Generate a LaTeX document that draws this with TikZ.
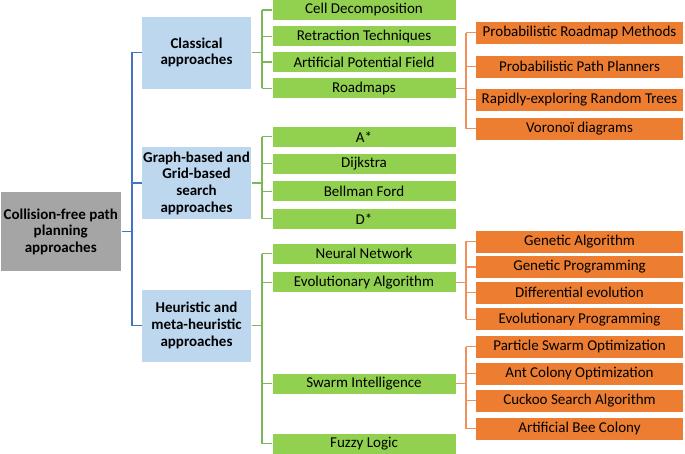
\documentclass[tikz,border=0pt]{standalone}
\usepackage{fontspec}
\setmainfont{Carlito}
\definecolor{grayfill}{HTML}{A5A5A5}
\definecolor{bluefill}{HTML}{BDD7EE}
\definecolor{greenfill}{HTML}{92D050}
\definecolor{orangefill}{HTML}{ED7D31}
\definecolor{blueline}{HTML}{4472C4}
\definecolor{greenline}{HTML}{7DB858}
\definecolor{orangeline}{HTML}{F0905A}
\begin{document}
\begin{tikzpicture}[x=1pt,y=-1pt,
  base/.style={inner sep=0pt, outer sep=0pt, align=center, text=black,
    font=\fontsize{15}{16.7}\selectfont, draw=white, line width=0.6pt},
  rootbox/.style={base, fill=grayfill, minimum width=121.5, minimum height=80, font=\fontsize{15}{16.7}\selectfont\bfseries},
  catbox/.style={base, fill=bluefill, minimum width=110, minimum height=73, font=\fontsize{15}{16.7}\selectfont\bfseries},
  leafbox/.style={base, fill=greenfill, minimum width=184, minimum height=21},
  subbox/.style={base, fill=orangefill, minimum width=208, minimum height=23},
  bl/.style={draw=blueline, line width=1.1pt},
  gl/.style={draw=greenline, line width=1.1pt},
  ol/.style={draw=orangeline, line width=1.1pt}]
\useasboundingbox (0,0) rectangle (685,454);

% root
\node[rootbox] (root) at (60.75,231.7) {Collision-free path\\planning\\approaches};

% categories
\node[catbox] (cls) at (196.5,52.5) {Classical\\approaches};
\node[catbox] (grf) at (196.5,183) {Graph-based and\\Grid-based\\search\\approaches};
\node[catbox] (heu) at (196.5,325.5) {Heuristic and\\meta-heuristic\\approaches};

% green leaves
\node[leafbox] (cell) at (364,10) {Cell Decomposition};
\node[leafbox] (retr) at (364,36.3) {Retraction Techniques};
\node[leafbox] (apf) at (364,62) {Artificial Potential Field};
\node[leafbox] (road) at (364,88.3) {Roadmaps};
\node[leafbox] (astar) at (364,136.7) {A*};
\node[leafbox] (dijk) at (364,163.7) {Dijkstra};
\node[leafbox] (bell) at (364,191.3) {Bellman Ford};
\node[leafbox] (dstar) at (364,218.7) {D*};
\node[leafbox] (nn) at (364,253.7) {Neural Network};
\node[leafbox] (evo) at (364,282.2) {Evolutionary Algorithm};
\node[leafbox] (swarm) at (364,383.8) {Swarm Intelligence};
\node[leafbox] (fuzzy) at (364,443.7) {Fuzzy Logic};

% orange sub-leaves
\node[subbox] (prm) at (579.5,32.9) {Probabilistic Roadmap Methods};
\node[subbox] (ppp) at (579.5,66.7) {Probabilistic Path Planners};
\node[subbox] (rrt) at (579.5,99.4) {Rapidly-exploring Random Trees};
\node[subbox] (vor) at (579.5,128.6) {Voronoï diagrams};
\node[subbox] (ga) at (579.5,241.5) {Genetic Algorithm};
\node[subbox] (gp) at (579.5,267) {Genetic Programming};
\node[subbox] (de) at (579.5,292.8) {Differential evolution};
\node[subbox] (ep) at (579.5,319.2) {Evolutionary Programming};
\node[subbox] (pso) at (579.5,346.8) {Particle Swarm Optimization};
\node[subbox] (aco) at (579.5,373.3) {Ant Colony Optimization};
\node[subbox] (csa) at (579.5,400.9) {Cuckoo Search Algorithm};
\node[subbox] (abc) at (579.5,428.7) {Artificial Bee Colony};

% trunk coordinates
\coordinate (bx) at (132,0);
\coordinate (gx) at (262,0);
\coordinate (ox) at (466,0);

% blue connectors
\draw[bl] (root.east) -- (root.east -| bx);
\draw[bl] (cls.west -| bx) -- (heu.west -| bx);
\foreach \n in {cls,grf,heu} \draw[bl] (\n.west -| bx) -- (\n.west);

% green connectors
\draw[gl] (cls.east) -- (cls.east -| gx);
\draw[gl] (cell.west -| gx) -- (road.west -| gx);
\foreach \n in {cell,retr,apf,road} \draw[gl] (\n.west -| gx) -- (\n.west);
\draw[gl] (grf.east) -- (grf.east -| gx);
\draw[gl] (astar.west -| gx) -- (dstar.west -| gx);
\foreach \n in {astar,dijk,bell,dstar} \draw[gl] (\n.west -| gx) -- (\n.west);
\draw[gl] (heu.east) -- (heu.east -| gx);
\draw[gl] (nn.west -| gx) -- (fuzzy.west -| gx);
\foreach \n in {nn,evo,swarm,fuzzy} \draw[gl] (\n.west -| gx) -- (\n.west);

% orange connectors
\draw[ol] (road.east) -- (road.east -| ox);
\draw[ol] (prm.west -| ox) -- (vor.west -| ox);
\foreach \n in {prm,ppp,rrt,vor} \draw[ol] (\n.west -| ox) -- (\n.west);
\draw[ol] (evo.east) -- (evo.east -| ox);
\draw[ol] (ga.west -| ox) -- (ep.west -| ox);
\foreach \n in {ga,gp,de,ep} \draw[ol] (\n.west -| ox) -- (\n.west);
\draw[ol] (swarm.east) -- (swarm.east -| ox);
\draw[ol] (pso.west -| ox) -- (abc.west -| ox);
\foreach \n in {pso,aco,csa,abc} \draw[ol] (\n.west -| ox) -- (\n.west);
\end{tikzpicture}
\end{document}
